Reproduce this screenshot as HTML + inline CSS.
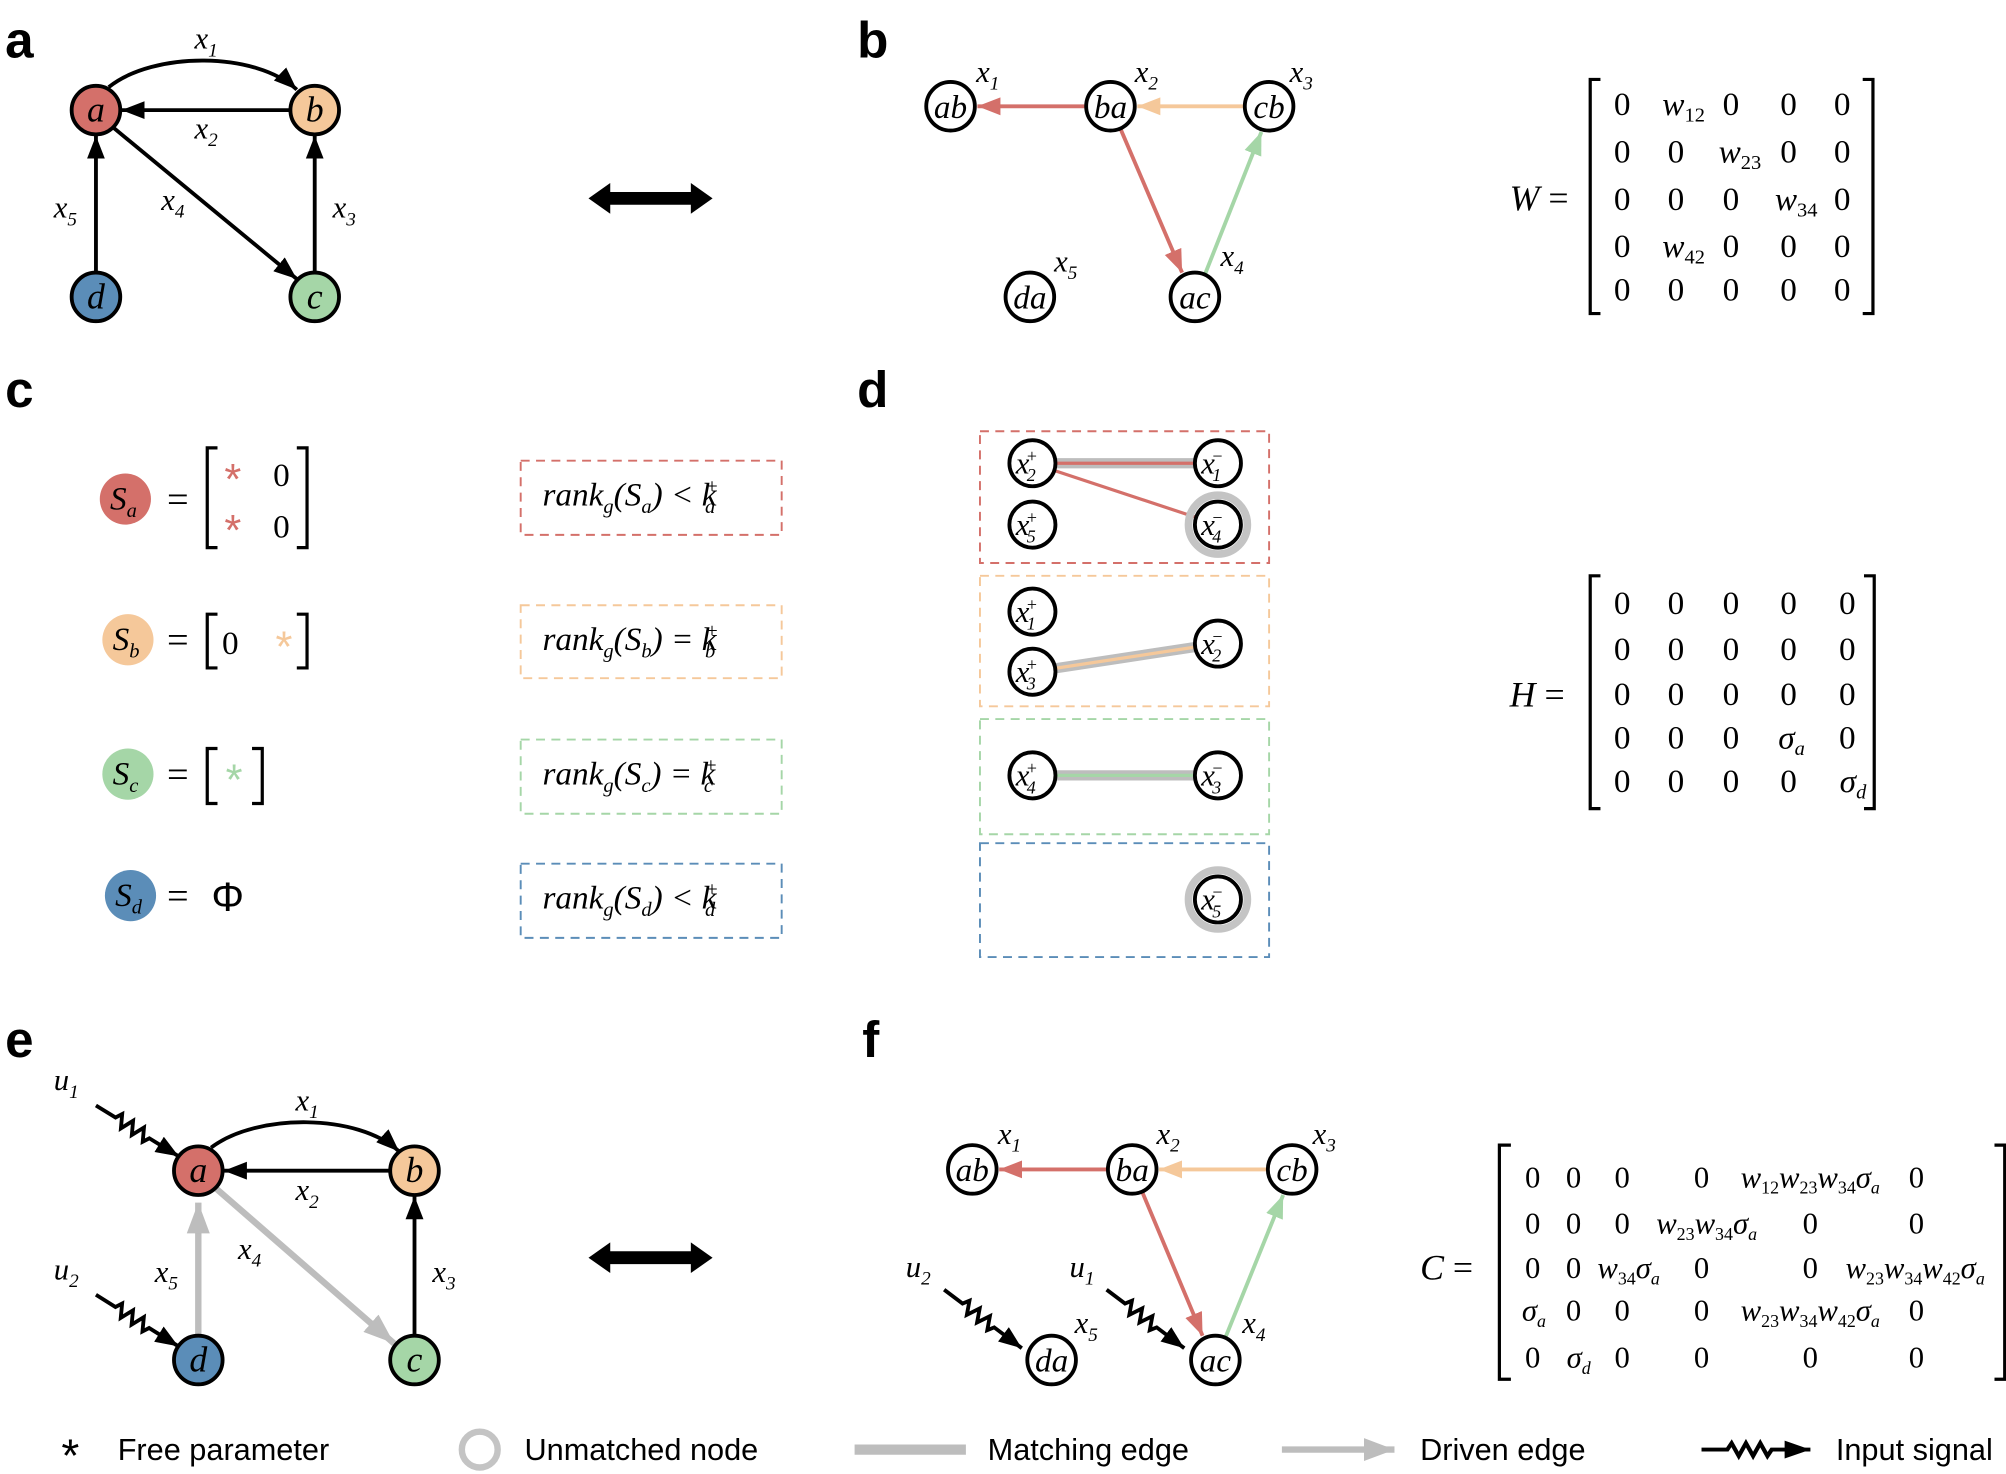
<!DOCTYPE html>
<html><head><meta charset="utf-8"><style>
html,body{margin:0;padding:0;background:#fff;}
svg{display:block;}
.m{font-family:"Liberation Serif",serif;font-style:italic;}
.n{font-family:"Liberation Serif",serif;}
.s{font-family:"Liberation Sans",sans-serif;}
</style></head><body>
<svg width="2006" height="1474" viewBox="0 0 1568 1152" xmlns="http://www.w3.org/2000/svg">
<defs>
<marker id="ak" markerUnits="userSpaceOnUse" markerWidth="20" markerHeight="16" refX="18" refY="8" orient="auto"><path d="M0,1 L18,8 L0,15 z" fill="#000"/></marker>
<marker id="ar" markerUnits="userSpaceOnUse" markerWidth="20" markerHeight="16" refX="18" refY="8" orient="auto"><path d="M0,1 L18,8 L0,15 z" fill="#d4706a"/></marker>
<marker id="ao" markerUnits="userSpaceOnUse" markerWidth="20" markerHeight="16" refX="18" refY="8" orient="auto"><path d="M0,1 L18,8 L0,15 z" fill="#f5c89a"/></marker>
<marker id="ag" markerUnits="userSpaceOnUse" markerWidth="20" markerHeight="16" refX="18" refY="8" orient="auto"><path d="M0,1 L18,8 L0,15 z" fill="#a5d6a7"/></marker>
<marker id="ay" markerUnits="userSpaceOnUse" markerWidth="26" markerHeight="20" refX="24" refY="10" orient="auto"><path d="M0,1 L24,10 L0,19 z" fill="#bdbdbd"/></marker>
<g id="wave"><path d="M0,0 L18,0 l3,-5 l5,10 l5,-10 l5,10 l5,-10 l5,10 l3,-5 L76,0" fill="none" stroke="#000" stroke-width="3" marker-end="url(#ak)"/></g>
</defs>

<!-- panel letters -->
<g class="s" font-weight="bold" font-size="40">
<text x="4" y="45">a</text><text x="670" y="45">b</text>
<text x="4" y="318">c</text><text x="670" y="318">d</text>
<text x="4" y="826">e</text><text x="674" y="826">f</text>
</g>

<!-- Panel a -->
<g stroke="#000" stroke-width="3" fill="none">
<path d="M85,68 C120,40 200,40 232,70" marker-end="url(#ak)"/>
<line x1="227" y1="86" x2="95" y2="86" marker-end="url(#ak)"/>
<line x1="89" y1="100" x2="232" y2="218" marker-end="url(#ak)"/>
<line x1="246" y1="213" x2="246" y2="106" marker-end="url(#ak)"/>
<line x1="75" y1="213" x2="75" y2="106" marker-end="url(#ak)"/>
</g>
<g stroke="#000" stroke-width="3">
<circle cx="75" cy="86" r="19" fill="#d4706a"/><circle cx="246" cy="86" r="19" fill="#f5c89a"/>
<circle cx="246" cy="232" r="19" fill="#a5d6a7"/><circle cx="75" cy="232" r="19" fill="#5b8db8"/>
</g>
<g class="m" font-size="28" text-anchor="middle">
<text x="75" y="95">a</text><text x="246" y="95">b</text><text x="246" y="241">c</text><text x="75" y="241">d</text>
</g>
<g class="m" font-size="24">
<text x="152" y="38">x<tspan font-size="15" dy="6">1</tspan></text>
<text x="152" y="108">x<tspan font-size="15" dy="6">2</tspan></text>
<text x="260" y="170">x<tspan font-size="15" dy="6">3</tspan></text>
<text x="126" y="164">x<tspan font-size="15" dy="6">4</tspan></text>
<text x="42" y="170">x<tspan font-size="15" dy="6">5</tspan></text>
</g>
<path d="M460,155 L477,143 L477,150 L540,150 L540,143 L557,155 L540,167 L540,160 L477,160 L477,167 z" fill="#000"/>

<!-- Panel b -->
<g stroke-width="3" fill="none">
<line x1="849" y1="83" x2="764" y2="83" stroke="#d4706a" marker-end="url(#ar)"/>
<line x1="973" y1="83" x2="889" y2="83" stroke="#f5c89a" marker-end="url(#ao)"/>
<line x1="876" y1="101" x2="924" y2="213" stroke="#d4706a" marker-end="url(#ar)"/>
<line x1="942" y1="214" x2="986" y2="103" stroke="#a5d6a7" marker-end="url(#ag)"/>
</g>
<g stroke="#000" stroke-width="3" fill="#fff">
<circle cx="743" cy="83" r="19"/><circle cx="868" cy="83" r="19"/><circle cx="992" cy="83" r="19"/>
<circle cx="805" cy="232" r="19"/><circle cx="934" cy="232" r="19"/>
</g>
<g class="m" font-size="26" text-anchor="middle">
<text x="743" y="92">ab</text><text x="868" y="92">ba</text><text x="992" y="92">cb</text>
<text x="805" y="241">da</text><text x="934" y="241">ac</text>
</g>
<g class="m" font-size="24">
<text x="763" y="64">x<tspan font-size="15" dy="6">1</tspan></text>
<text x="887" y="64">x<tspan font-size="15" dy="6">2</tspan></text>
<text x="1008" y="64">x<tspan font-size="15" dy="6">3</tspan></text>
<text x="954" y="208">x<tspan font-size="15" dy="6">4</tspan></text>
<text x="824" y="212">x<tspan font-size="15" dy="6">5</tspan></text>
</g>
<!-- W matrix -->
<text x="1180" y="164" class="m" font-size="28">W<tspan class="n" font-style="normal"> =</tspan></text>
<g stroke="#000" stroke-width="2.5" fill="none">
<path d="M1251,62 L1243,62 L1243,245 L1251,245"/><path d="M1456,62 L1464,62 L1464,245 L1456,245"/>
</g>
<g class="n" font-size="26" text-anchor="middle">
<text x="1268" y="90">0</text><text x="1353" y="90">0</text><text x="1398" y="90">0</text><text x="1440" y="90">0</text>
<text x="1268" y="127">0</text><text x="1310" y="127">0</text><text x="1398" y="127">0</text><text x="1440" y="127">0</text>
<text x="1268" y="164">0</text><text x="1310" y="164">0</text><text x="1353" y="164">0</text><text x="1440" y="164">0</text>
<text x="1268" y="201">0</text><text x="1353" y="201">0</text><text x="1398" y="201">0</text><text x="1440" y="201">0</text>
<text x="1268" y="235">0</text><text x="1310" y="235">0</text><text x="1353" y="235">0</text><text x="1398" y="235">0</text><text x="1440" y="235">0</text>
</g>
<g class="m" font-size="26" text-anchor="middle">
<text x="1316" y="90">w<tspan font-size="16" dy="5" font-style="normal">12</tspan></text>
<text x="1360" y="127">w<tspan font-size="16" dy="5" font-style="normal">23</tspan></text>
<text x="1404" y="164">w<tspan font-size="16" dy="5" font-style="normal">34</tspan></text>
<text x="1316" y="201">w<tspan font-size="16" dy="5" font-style="normal">42</tspan></text>
</g>

<!-- Panel c -->
<g>
<circle cx="98" cy="390" r="20" fill="#d4706a"/><circle cx="100" cy="500" r="20" fill="#f5c89a"/>
<circle cx="100" cy="605" r="20" fill="#a5d6a7"/><circle cx="102" cy="700" r="20" fill="#5b8db8"/>
</g>
<g class="m" font-size="26">
<text x="86" y="398">S<tspan font-size="16" dy="6">a</tspan></text>
<text x="88" y="508">S<tspan font-size="16" dy="6">b</tspan></text>
<text x="88" y="613">S<tspan font-size="16" dy="6">c</tspan></text>
<text x="90" y="708">S<tspan font-size="16" dy="6">d</tspan></text>
</g>
<g class="n" font-size="30" text-anchor="middle">
<text x="139" y="400">=</text><text x="139" y="510">=</text><text x="139" y="615">=</text><text x="139" y="710">=</text>
<text x="178" y="712" class="s" font-size="32">Φ</text>
<text x="220" y="380" font-size="26">0</text><text x="220" y="420" font-size="26">0</text>
<text x="180" y="511" font-size="26">0</text>
</g>
<g stroke="#000" stroke-width="2.5" fill="none">
<path d="M170,350 L162,350 L162,428 L170,428"/><path d="M232,350 L240,350 L240,428 L232,428"/>
<path d="M170,480 L162,480 L162,522 L170,522"/><path d="M232,480 L240,480 L240,522 L232,522"/>
<path d="M170,585 L162,585 L162,628 L170,628"/><path d="M197,585 L205,585 L205,628 L197,628"/>
</g>
<g class="s" font-size="34" text-anchor="middle">
<text x="182" y="386" fill="#d4706a">*</text><text x="182" y="426" fill="#d4706a">*</text>
<text x="222" y="517" fill="#f5c89a">*</text><text x="183" y="621" fill="#a5d6a7">*</text>
</g>
<g fill="none" stroke-width="1.5" stroke-dasharray="7,5">
<rect x="407" y="360" width="204" height="58" stroke="#d4706a"/>
<rect x="407" y="473" width="204" height="57" stroke="#f5c89a"/>
<rect x="407" y="578" width="204" height="58" stroke="#a5d6a7"/>
<rect x="407" y="675" width="204" height="58" stroke="#5b8db8"/>
</g>
<g class="m" font-size="26">
<text x="424" y="395">rank<tspan font-size="16" dy="6">g</tspan><tspan dy="-6">(S</tspan><tspan font-size="16" dy="6">a</tspan><tspan dy="-6">) &lt; k</tspan><tspan font-size="16" dx="-8" dy="-10" font-style="normal">+</tspan><tspan font-size="16" dx="-10" dy="16">a</tspan></text>
<text x="424" y="508">rank<tspan font-size="16" dy="6">g</tspan><tspan dy="-6">(S</tspan><tspan font-size="16" dy="6">b</tspan><tspan dy="-6">) = k</tspan><tspan font-size="16" dx="-8" dy="-10" font-style="normal">+</tspan><tspan font-size="16" dx="-10" dy="16">b</tspan></text>
<text x="424" y="613">rank<tspan font-size="16" dy="6">g</tspan><tspan dy="-6">(S</tspan><tspan font-size="16" dy="6">c</tspan><tspan dy="-6">) = k</tspan><tspan font-size="16" dx="-8" dy="-10" font-style="normal">+</tspan><tspan font-size="16" dx="-10" dy="16">c</tspan></text>
<text x="424" y="710">rank<tspan font-size="16" dy="6">g</tspan><tspan dy="-6">(S</tspan><tspan font-size="16" dy="6">d</tspan><tspan dy="-6">) &lt; k</tspan><tspan font-size="16" dx="-8" dy="-10" font-style="normal">+</tspan><tspan font-size="16" dx="-10" dy="16">d</tspan></text>
</g>

<!-- Panel d -->
<g fill="none" stroke-width="1.5" stroke-dasharray="7,5">
<rect x="766" y="337" width="226" height="103" stroke="#d4706a"/>
<rect x="766" y="450" width="226" height="102" stroke="#f5c89a"/>
<rect x="766" y="562" width="226" height="90" stroke="#a5d6a7"/>
<rect x="766" y="659" width="226" height="89" stroke="#5b8db8"/>
</g>
<g stroke="#bdbdbd" stroke-width="8">
<line x1="807" y1="362" x2="952" y2="362"/><line x1="807" y1="525" x2="952" y2="503"/><line x1="807" y1="606" x2="952" y2="606"/>
</g>
<g stroke-width="2.5">
<line x1="807" y1="362" x2="952" y2="362" stroke="#d4706a"/>
<line x1="807" y1="362" x2="952" y2="410" stroke="#d4706a"/>
<line x1="807" y1="525" x2="952" y2="503" stroke="#f5c89a"/>
<line x1="807" y1="606" x2="952" y2="606" stroke="#a5d6a7"/>
</g>
<g fill="none" stroke="#c4c4c4" stroke-width="6"><circle cx="952" cy="410" r="23"/><circle cx="952" cy="703" r="23"/></g>
<g stroke="#000" stroke-width="3" fill="#fff">
<circle cx="807" cy="362" r="18"/><circle cx="952" cy="362" r="18"/><circle cx="807" cy="410" r="18"/><circle cx="952" cy="410" r="18"/>
<circle cx="807" cy="478" r="18"/><circle cx="807" cy="525" r="18"/><circle cx="952" cy="503" r="18"/>
<circle cx="807" cy="606" r="18"/><circle cx="952" cy="606" r="18"/><circle cx="952" cy="703" r="18"/>
</g>
<g class="m" font-size="24">
<text x="794" y="370">x<tspan font-size="14" dx="-2" dy="-9" font-style="normal">+</tspan><tspan font-size="14" dx="-8" dy="15">2</tspan></text>
<text x="939" y="370">x<tspan font-size="14" dx="-2" dy="-9" font-style="normal">−</tspan><tspan font-size="14" dx="-8" dy="15">1</tspan></text>
<text x="794" y="418">x<tspan font-size="14" dx="-2" dy="-9" font-style="normal">+</tspan><tspan font-size="14" dx="-8" dy="15">5</tspan></text>
<text x="939" y="418">x<tspan font-size="14" dx="-2" dy="-9" font-style="normal">−</tspan><tspan font-size="14" dx="-8" dy="15">4</tspan></text>
<text x="794" y="486">x<tspan font-size="14" dx="-2" dy="-9" font-style="normal">+</tspan><tspan font-size="14" dx="-8" dy="15">1</tspan></text>
<text x="794" y="533">x<tspan font-size="14" dx="-2" dy="-9" font-style="normal">+</tspan><tspan font-size="14" dx="-8" dy="15">3</tspan></text>
<text x="939" y="511">x<tspan font-size="14" dx="-2" dy="-9" font-style="normal">−</tspan><tspan font-size="14" dx="-8" dy="15">2</tspan></text>
<text x="794" y="614">x<tspan font-size="14" dx="-2" dy="-9" font-style="normal">+</tspan><tspan font-size="14" dx="-8" dy="15">4</tspan></text>
<text x="939" y="614">x<tspan font-size="14" dx="-2" dy="-9" font-style="normal">−</tspan><tspan font-size="14" dx="-8" dy="15">3</tspan></text>
<text x="939" y="711">x<tspan font-size="14" dx="-2" dy="-9" font-style="normal">−</tspan><tspan font-size="14" dx="-8" dy="15">5</tspan></text>
</g>
<!-- H matrix -->
<text x="1180" y="552" class="m" font-size="28">H<tspan class="n" font-style="normal"> =</tspan></text>
<g stroke="#000" stroke-width="2.5" fill="none">
<path d="M1251,450 L1243,450 L1243,632 L1251,632"/><path d="M1457,450 L1465,450 L1465,632 L1457,632"/>
</g>
<g class="n" font-size="26" text-anchor="middle">
<text x="1268" y="480">0</text><text x="1310" y="480">0</text><text x="1353" y="480">0</text><text x="1398" y="480">0</text><text x="1444" y="480">0</text>
<text x="1268" y="516">0</text><text x="1310" y="516">0</text><text x="1353" y="516">0</text><text x="1398" y="516">0</text><text x="1444" y="516">0</text>
<text x="1268" y="551">0</text><text x="1310" y="551">0</text><text x="1353" y="551">0</text><text x="1398" y="551">0</text><text x="1444" y="551">0</text>
<text x="1268" y="585">0</text><text x="1310" y="585">0</text><text x="1353" y="585">0</text><text x="1444" y="585">0</text>
<text x="1268" y="619">0</text><text x="1310" y="619">0</text><text x="1353" y="619">0</text><text x="1398" y="619">0</text>
</g>
<g class="m" font-size="26">
<text x="1390" y="585">σ<tspan font-size="16" dy="5">a</tspan></text>
<text x="1438" y="619">σ<tspan font-size="16" dy="5">d</tspan></text>
</g>

<!-- Panel e -->
<g stroke="#bdbdbd" stroke-width="5" fill="none">
<line x1="155" y1="1044" x2="155" y2="940" marker-end="url(#ay)"/>
<line x1="169" y1="929" x2="308" y2="1050" marker-end="url(#ay)"/>
</g>
<g stroke="#000" stroke-width="3" fill="none">
<path d="M165,897 C200,870 280,870 312,900" marker-end="url(#ak)"/>
<line x1="305" y1="915" x2="175" y2="915" marker-end="url(#ak)"/>
<line x1="324" y1="1044" x2="324" y2="935" marker-end="url(#ak)"/>
</g>
<use href="#wave" transform="translate(75,864) rotate(31.6)"/>
<use href="#wave" transform="translate(75,1012) rotate(32)"/>
<g stroke="#000" stroke-width="3">
<circle cx="155" cy="915" r="19" fill="#d4706a"/><circle cx="324" cy="915" r="19" fill="#f5c89a"/>
<circle cx="324" cy="1063" r="19" fill="#a5d6a7"/><circle cx="155" cy="1063" r="19" fill="#5b8db8"/>
</g>
<g class="m" font-size="28" text-anchor="middle">
<text x="155" y="924">a</text><text x="324" y="924">b</text><text x="324" y="1072">c</text><text x="155" y="1072">d</text>
</g>
<g class="m" font-size="24">
<text x="231" y="868">x<tspan font-size="15" dy="6">1</tspan></text>
<text x="231" y="938">x<tspan font-size="15" dy="6">2</tspan></text>
<text x="338" y="1002">x<tspan font-size="15" dy="6">3</tspan></text>
<text x="186" y="984">x<tspan font-size="15" dy="6">4</tspan></text>
<text x="121" y="1002">x<tspan font-size="15" dy="6">5</tspan></text>
<text x="42" y="852">u<tspan font-size="15" dy="6">1</tspan></text>
<text x="42" y="1000">u<tspan font-size="15" dy="6">2</tspan></text>
</g>
<path d="M460,983 L477,971 L477,978 L540,978 L540,971 L557,983 L540,995 L540,988 L477,988 L477,995 z" fill="#000"/>

<!-- Panel f -->
<g stroke-width="3" fill="none">
<line x1="866" y1="914" x2="781" y2="914" stroke="#d4706a" marker-end="url(#ar)"/>
<line x1="991" y1="914" x2="906" y2="914" stroke="#f5c89a" marker-end="url(#ao)"/>
<line x1="893" y1="932" x2="940" y2="1044" stroke="#d4706a" marker-end="url(#ar)"/>
<line x1="958" y1="1045" x2="1003" y2="934" stroke="#a5d6a7" marker-end="url(#ag)"/>
</g>
<use href="#wave" transform="translate(738,1008) rotate(37)"/>
<use href="#wave" transform="translate(865,1008) rotate(37)"/>
<g stroke="#000" stroke-width="3" fill="#fff">
<circle cx="760" cy="914" r="19"/><circle cx="885" cy="914" r="19"/><circle cx="1010" cy="914" r="19"/>
<circle cx="822" cy="1063" r="19"/><circle cx="950" cy="1063" r="19"/>
</g>
<g class="m" font-size="26" text-anchor="middle">
<text x="760" y="923">ab</text><text x="885" y="923">ba</text><text x="1010" y="923">cb</text>
<text x="822" y="1072">da</text><text x="950" y="1072">ac</text>
</g>
<g class="m" font-size="24">
<text x="780" y="894">x<tspan font-size="15" dy="6">1</tspan></text>
<text x="904" y="894">x<tspan font-size="15" dy="6">2</tspan></text>
<text x="1026" y="894">x<tspan font-size="15" dy="6">3</tspan></text>
<text x="971" y="1042">x<tspan font-size="15" dy="6">4</tspan></text>
<text x="840" y="1042">x<tspan font-size="15" dy="6">5</tspan></text>
<text x="708" y="998">u<tspan font-size="15" dy="6">2</tspan></text>
<text x="836" y="998">u<tspan font-size="15" dy="6">1</tspan></text>
</g>
<!-- C matrix -->
<text x="1110" y="1000" class="m" font-size="28">C<tspan class="n" font-style="normal"> =</tspan></text>
<g stroke="#000" stroke-width="2.5" fill="none">
<path d="M1181,895 L1172,895 L1172,1078 L1181,1078"/><path d="M1559,895 L1567,895 L1567,1078 L1559,1078"/>
</g>
<g class="n" font-size="24" text-anchor="middle">
<text x="1198" y="928">0</text><text x="1230" y="928">0</text><text x="1268" y="928">0</text><text x="1330" y="928">0</text><text x="1498" y="928">0</text>
<text x="1198" y="964">0</text><text x="1230" y="964">0</text><text x="1268" y="964">0</text><text x="1415" y="964">0</text><text x="1498" y="964">0</text>
<text x="1198" y="999">0</text><text x="1230" y="999">0</text><text x="1330" y="999">0</text><text x="1415" y="999">0</text>
<text x="1230" y="1032">0</text><text x="1268" y="1032">0</text><text x="1330" y="1032">0</text><text x="1498" y="1032">0</text>
<text x="1198" y="1069">0</text><text x="1268" y="1069">0</text><text x="1330" y="1069">0</text><text x="1415" y="1069">0</text><text x="1498" y="1069">0</text>
</g>
<g class="m" font-size="24" text-anchor="middle">
<text x="1415" y="928">w<tspan font-size="14" dy="5" font-style="normal">12</tspan><tspan dy="-5">w</tspan><tspan font-size="14" dy="5" font-style="normal">23</tspan><tspan dy="-5">w</tspan><tspan font-size="14" dy="5" font-style="normal">34</tspan><tspan dy="-5">σ</tspan><tspan font-size="14" dy="5">a</tspan></text>
<text x="1334" y="964">w<tspan font-size="14" dy="5" font-style="normal">23</tspan><tspan dy="-5">w</tspan><tspan font-size="14" dy="5" font-style="normal">34</tspan><tspan dy="-5">σ</tspan><tspan font-size="14" dy="5">a</tspan></text>
<text x="1273" y="999">w<tspan font-size="14" dy="5" font-style="normal">34</tspan><tspan dy="-5">σ</tspan><tspan font-size="14" dy="5">a</tspan></text>
<text x="1497" y="999">w<tspan font-size="14" dy="5" font-style="normal">23</tspan><tspan dy="-5">w</tspan><tspan font-size="14" dy="5" font-style="normal">34</tspan><tspan dy="-5">w</tspan><tspan font-size="14" dy="5" font-style="normal">42</tspan><tspan dy="-5">σ</tspan><tspan font-size="14" dy="5">a</tspan></text>
<text x="1199" y="1032">σ<tspan font-size="14" dy="5">a</tspan></text>
<text x="1415" y="1032">w<tspan font-size="14" dy="5" font-style="normal">23</tspan><tspan dy="-5">w</tspan><tspan font-size="14" dy="5" font-style="normal">34</tspan><tspan dy="-5">w</tspan><tspan font-size="14" dy="5" font-style="normal">42</tspan><tspan dy="-5">σ</tspan><tspan font-size="14" dy="5">a</tspan></text>
<text x="1234" y="1069">σ<tspan font-size="14" dy="5">d</tspan></text>
</g>

<!-- Legend -->
<g class="s" font-size="24">
<text x="48" y="1150" font-size="36">*</text>
<text x="92" y="1141">Free parameter</text>
<text x="410" y="1141">Unmatched node</text>
<text x="772" y="1141">Matching edge</text>
<text x="1110" y="1141">Driven edge</text>
<text x="1435" y="1141">Input signal</text>
</g>
<circle cx="375" cy="1133" r="14" fill="none" stroke="#c4c4c4" stroke-width="5"/>
<line x1="668" y1="1133" x2="755" y2="1133" stroke="#bdbdbd" stroke-width="8"/>
<line x1="1002" y1="1133" x2="1090" y2="1133" stroke="#bdbdbd" stroke-width="5" marker-end="url(#ay)"/>
<use href="#wave" transform="translate(1330,1133) scale(1.12,1)"/>
</svg>
</body></html>
